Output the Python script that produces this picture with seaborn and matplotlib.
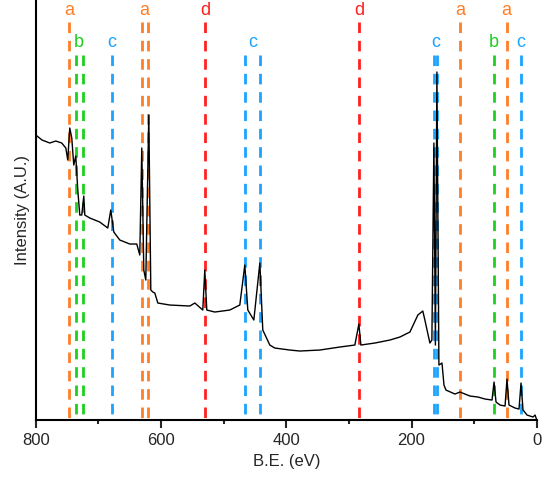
import numpy as np
import pandas as pd
import matplotlib
matplotlib.use("Agg")
import matplotlib.pyplot as plt
import seaborn as sns

# spectrum (binding energy eV, intensity a.u.)
be = [800, 790, 777.6, 768, 758.5, 752, 748.9, 745.7, 742.5, 739.3, 736.1, 732.9, 729.7, 726.5, 723.3, 721.7,
      713.7, 697.8, 685, 680.2, 675.4, 665.8, 649.9, 638.7, 633.9, 630.7, 627.5, 624.3, 619.5, 616.3,
      613.1, 609.9, 605.1, 585.9, 554, 546, 533.3, 530.1, 526.9, 514.1, 490.2, 474.2, 466.2, 461.4,
      451.8, 442.2, 437.5, 426.3, 418.3, 394.4, 378.4, 346.5, 314.5, 290.5, 284.1, 280.9, 258.6, 234.6,
      218.6, 202.6, 189.9, 182, 178.7, 170.7, 167.5, 164.3, 161.9, 159.5, 156.3, 151.4, 148.2, 145.1, 130.7,
      122.7, 106.7, 93.9, 82.7, 71.5, 68.3, 65.1, 58.7, 50.7, 47.6, 44.4, 34.8, 28.4, 25.2, 22.0,
      15.6, 6.0, 2.8, 0]
inten = [285, 280, 277, 279, 277, 272, 260, 292, 282, 255, 264, 230, 205, 205, 224, 205,
         202, 198, 192, 210, 188, 180, 176, 176, 165, 272, 150, 140, 305, 130,
         128, 127, 117, 115, 114, 117, 110, 150, 110, 108, 110, 115, 155, 110,
         100, 157, 90, 75, 72, 70, 69, 70, 73, 75, 96, 75, 77, 80, 83, 88, 105, 109, 100,
         77, 80, 277, 75, 348, 55, 57, 35, 30, 26,
         28, 24, 23, 21, 20, 38, 18, 15, 14, 41, 15, 12, 11, 37, 10,
         5, 3, 5, 0]

# reference lines (eV) per group
a_lines = [747, 631, 620, 122, 48]
b_lines = [736, 725, 69]
c_lines = [679, 466, 442, 164, 159, 25]
d_lines = [530, 284]
# labels: (letter, eV)
lab_letters = ["a", "b", "c", "a", "d", "c", "d", "c", "a", "b", "a", "c"]
lab_pos = [747, 731, 679, 626, 530, 454, 284, 162, 122, 69, 48, 25]

colors = {"a": "#FF7F27", "b": "#1ED01E", "c": "#1AA3FF", "d": "#FF2020"}
tops = {"a": 398, "b": 365, "c": 365, "d": 398}

sns.set_style("white")
plt.rcParams['font.family'] = ['Liberation Sans', 'DejaVu Sans']

fig = plt.figure(figsize=(5.5, 4.93), dpi=100)
ax = fig.add_axes([0.065, 0.148, 0.911, 0.852])

for key, lines in [("a", a_lines), ("b", b_lines), ("c", c_lines), ("d", d_lines)]:
    for e in lines:
        ax.plot([e, e], [tops[key], 0], color=colors[key], lw=2, dashes=(3.8, 2.8), zorder=1)

df = pd.DataFrame({"be": be, "i": inten})
sns.lineplot(data=df, x="be", y="i", sort=False, estimator=None, color="black", lw=1, ax=ax, zorder=3)

for l, e in zip(lab_letters, lab_pos):
    y = 410 if l in ("a", "d") else 378
    ax.text(e, y, l, color=colors[l], fontsize=13, ha="center", va="center")

ax.set_xlim(800, 0)
ax.set_ylim(0, 420)
ax.set_xticks([800, 600, 400, 200, 0])
ax.set_xticks([700, 500, 300, 100], minor=True)
ax.set_yticks([])
ax.tick_params(axis="x", which="major", direction="out", length=6, width=1.5, labelsize=12, bottom=True)
ax.tick_params(axis="x", which="minor", direction="out", length=3, width=1.5, bottom=True)
for s in ["top", "right"]:
    ax.spines[s].set_visible(False)
for s in ["left", "bottom"]:
    ax.spines[s].set_color("black")
    ax.spines[s].set_linewidth(1.5)
ax.set_xlabel("B.E. (eV)", fontsize=12)
ax.set_ylabel("Intensity (A.U.)", fontsize=12)
fig.savefig("out.png", dpi=100)
